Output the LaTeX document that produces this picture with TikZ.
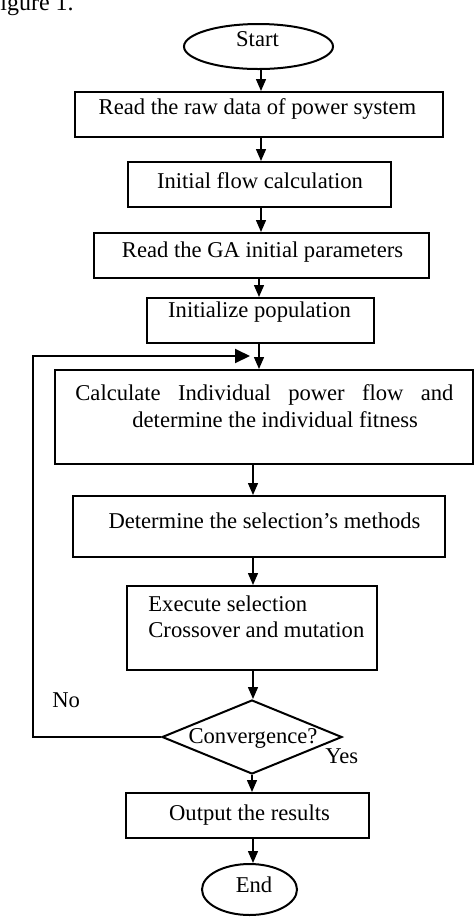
\documentclass[tikz,border=0pt]{standalone}
\usepackage{fontspec}
\setmainfont{Liberation Serif}
\usetikzlibrary{shapes.geometric,arrows.meta}

\newcommand*{\FlowFont}{\fontsize{11.3}{13.5}\selectfont}

\begin{document}
\begin{tikzpicture}[x=0.5pt,y=-0.5pt,
    box/.style={draw, line width=1pt, inner sep=0pt},
    oval/.style={draw, ellipse, line width=1pt, inner sep=0pt},
    txt/.style={inner sep=0pt, font=\FlowFont, anchor=base},
    arr/.style={line width=0.7pt, -{Triangle[length=6pt,width=5pt]}}]
  \useasboundingbox (0,0) rectangle (474,917);
  \node[txt, anchor=base west, font=\fontsize{12}{14}\selectfont] (caption) at (0,10) {igure 1.};
  % boxes
  \node[oval, minimum width=74.5pt, minimum height=22.5pt] (start) at (258.5,46.5) {};
  \node[box, minimum width=184pt, minimum height=22.5pt] (raw) at (259,114.5) {};
  \node[box, minimum width=131.5pt, minimum height=22.5pt] (flow) at (259.5,184.5) {};
  \node[box, minimum width=167.5pt, minimum height=22.5pt] (gapar) at (261.5,255.5) {};
  \node[box, minimum width=113.5pt, minimum height=22.5pt] (pop) at (260.5,320.5) {};
  \node[box, minimum width=209pt, minimum height=47pt] (calc) at (264,417) {};
  \node[box, minimum width=186pt, minimum height=30.5pt] (sel) at (259,526.5) {};
  \node[box, minimum width=125pt, minimum height=42pt] (exe) at (252,628) {};
  \node[diamond, draw, line width=1pt, inner sep=0pt, minimum width=90pt, minimum height=37pt] (conv) at (252,737) {};
  \node[box, minimum width=121.5pt, minimum height=22.5pt] (out) at (247.5,815.5) {};
  \node[oval, minimum width=47.5pt, minimum height=25.5pt] (end) at (249.5,889.5) {};
  % texts
  \node[txt] (starttxt) at (257.5,46.5) {Start};
  \node[txt] (rawtxt) at (257.5,114) {Read the raw data of power system};
  \node[txt] (flowtxt) at (260,188) {Initial flow calculation};
  \node[txt] (gapartxt) at (262.5,257) {Read the GA initial parameters};
  \node[txt] (poptxt) at (259.5,317) {Initialize population};
  \node[txt, anchor=base west] (calctxta) at (75,400) {\makebox[189pt][s]{Calculate Individual power flow and}};
  \node[txt, anchor=base west] (calctxtb) at (132,427) {determine the individual fitness};
  \node[txt] (seltxt) at (264.5,528) {Determine the selection’s methods};
  \node[txt, anchor=base west] (exetxta) at (148,611) {Execute selection};
  \node[txt, anchor=base west] (exetxtb) at (148,637) {Crossover and mutation};
  \node[txt] (convtxt) at (253,743) {Convergence?};
  \node[txt, anchor=base west] (yes) at (325,763) {Yes};
  \node[txt, anchor=base west] (no) at (52,707) {No};
  \node[txt] (outtxt) at (249.5,820) {Output the results};
  \node[txt] (endtxt) at (254,892) {End};
  % arrows
  \foreach \a/\b/\x in {start/raw/261, raw/flow/261, flow/gapar/261, gapar/pop/259,
      pop/calc/259, calc/sel/253, sel/exe/253, exe/conv/253, conv/out/252, out/end/253}
    \draw[arr] (\a.south -| \x,0) -- (\b.north -| \x,0);
  % loop back
  \coordinate (noturn) at (33,737);
  \coordinate (backin) at (250,356);
  \draw[line width=1pt, -{Triangle[length=7.5pt,width=7pt]}] (conv.west) -- (noturn) |- (backin);
\end{tikzpicture}
\end{document}
